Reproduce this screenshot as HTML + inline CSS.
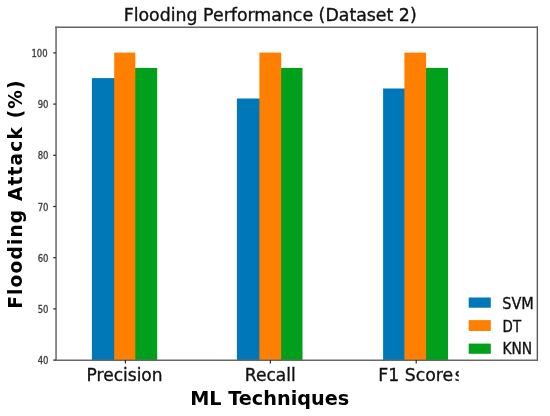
<!DOCTYPE html>
<html><head><meta charset="utf-8"><title>Flooding Performance (Dataset 2)</title>
<style>
html,body{margin:0;padding:0;background:#fff;}
body{width:550px;height:416px;overflow:hidden;font-family:"DejaVu Sans","Liberation Sans",sans-serif;}
svg{display:block;}
text{font-family:"DejaVu Sans","Liberation Sans",sans-serif;fill:#111;}
.t text,text.t{stroke:#111;stroke-width:0.35px;}
.b{font-weight:bold;fill:#000;}
.tk text{fill:#404040;stroke:#404040;stroke-width:0.35px;}
</style></head><body>
<svg width="550" height="416" viewBox="0 0 550 416">
<rect width="550" height="416" fill="#fff"/>
<!-- bars -->
<g>
<rect x="91.9" y="78.1" width="23.3" height="281.9" fill="#0077b6"/>
<rect x="134.3" y="67.9" width="22.9" height="292.1" fill="#00a01c"/>
<rect x="114.2" y="52.6" width="21.1" height="307.4" fill="#ff8000"/>
<rect x="236.9" y="98.5" width="23.5" height="261.5" fill="#0077b6"/>
<rect x="280.2" y="67.9" width="22.3" height="292.1" fill="#00a01c"/>
<rect x="259.4" y="52.6" width="21.8" height="307.4" fill="#ff8000"/>
<rect x="383.1" y="88.5" width="22.3" height="271.5" fill="#0077b6"/>
<rect x="425.1" y="67.9" width="22.9" height="292.1" fill="#00a01c"/>
<rect x="404.4" y="52.6" width="21.7" height="307.4" fill="#ff8000"/>
</g>
<!-- axes frame -->
<g fill="none">
<line x1="56.05" x2="56.05" y1="26.6" y2="361.1" stroke="#5c5c5c" stroke-width="1.4"/>
<line x1="537.35" x2="537.35" y1="26.6" y2="361.1" stroke="#5c5c5c" stroke-width="1.4"/>
<line x1="55.35" x2="538.05" y1="27.3" y2="27.3" stroke="#646464" stroke-width="1.4"/>
<line x1="55.35" x2="538.05" y1="360.35" y2="360.35" stroke="#686868" stroke-width="1.5"/>
</g>
<!-- y ticks -->
<g stroke="#2a2a2a" stroke-width="1.2">
<line x1="53.2" x2="56" y1="52.9" y2="52.9"/>
<line x1="53.2" x2="56" y1="104.1" y2="104.1"/>
<line x1="53.2" x2="56" y1="155.3" y2="155.3"/>
<line x1="53.2" x2="56" y1="206.5" y2="206.5"/>
<line x1="53.2" x2="56" y1="257.7" y2="257.7"/>
<line x1="53.2" x2="56" y1="308.9" y2="308.9"/>
<line x1="53.2" x2="56" y1="360.1" y2="360.1"/>
<line x1="125.4" x2="125.4" y1="360" y2="363.6"/>
<line x1="270.4" x2="270.4" y1="360" y2="363.6"/>
<line x1="416.2" x2="416.2" y1="360" y2="363.6"/>
</g>
<g class="tk" font-size="10.7" text-anchor="end">
<text x="47.6" y="57.0" textLength="16.2" lengthAdjust="spacingAndGlyphs">100</text>
<text x="48.5" y="108.2" textLength="10.8" lengthAdjust="spacingAndGlyphs">90</text>
<text x="48.5" y="159.4" textLength="10.8" lengthAdjust="spacingAndGlyphs">80</text>
<text x="48.5" y="210.6" textLength="10.8" lengthAdjust="spacingAndGlyphs">70</text>
<text x="48.5" y="261.8" textLength="10.8" lengthAdjust="spacingAndGlyphs">60</text>
<text x="48.5" y="313.0" textLength="10.8" lengthAdjust="spacingAndGlyphs">50</text>
<text x="48.5" y="364.2" textLength="10.8" lengthAdjust="spacingAndGlyphs">40</text>
</g>
<!-- title -->
<text class="t" x="123.7" y="20.7" font-size="17.4" textLength="293" lengthAdjust="spacingAndGlyphs">Flooding Performance (Dataset 2)</text>
<!-- x tick labels -->
<g font-size="17.8" class="t">
<text x="86.6" y="381.2" textLength="76" lengthAdjust="spacingAndGlyphs">Precision</text>
<text x="244.8" y="381.2" textLength="51" lengthAdjust="spacingAndGlyphs">Recall</text>
<svg x="370" y="360" width="88.8" height="30" overflow="hidden"><text x="8.3" y="21.0" font-size="17.2" textLength="74.8" lengthAdjust="spacingAndGlyphs">F1 Score</text><text x="84.7" y="21.0" font-size="17.2">s</text></svg>
</g>
<!-- axis labels -->
<text class="b" x="190.2" y="405.15" font-size="19.9" textLength="159" lengthAdjust="spacingAndGlyphs">ML Techniques</text>
<text class="b" transform="translate(22.1,308.8) rotate(-90)" font-size="18.6" textLength="228.4" lengthAdjust="spacing">Flooding Attack (%)</text>
<!-- legend -->
<g>
<rect x="468.7" y="297.5" width="22.1" height="10.2" fill="#0077b6"/>
<rect x="468.7" y="320.1" width="22.1" height="10.9" fill="#ff8000"/>
<rect x="468.7" y="343.6" width="22.1" height="10.2" fill="#00a01c"/>
</g>
<g font-size="15.6" class="t">
<text x="502.2" y="308.5" textLength="31.6" lengthAdjust="spacingAndGlyphs">SVM</text>
<text x="502.6" y="332.0" textLength="18.5" lengthAdjust="spacingAndGlyphs">DT</text>
<text x="502.4" y="354.3" textLength="29.8" lengthAdjust="spacingAndGlyphs">KNN</text>
</g>
</svg>
</body></html>
